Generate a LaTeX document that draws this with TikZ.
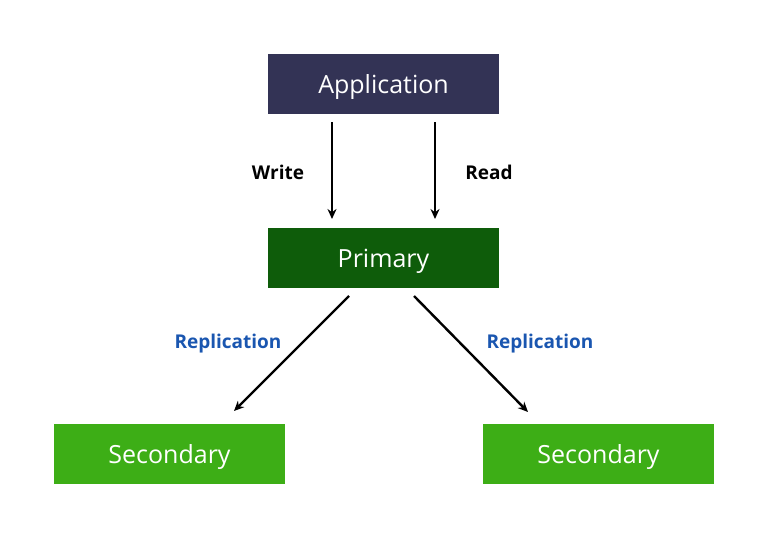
\documentclass[tikz,border=0pt]{standalone}
\usepackage{fontspec}
\setmainfont{Open Sans}
\usetikzlibrary{arrows.meta}
\definecolor{appc}{HTML}{333355}
\definecolor{primc}{HTML}{0E5C0A}
\definecolor{secc}{HTML}{3DAE16}
\definecolor{repc}{HTML}{1A56B0}
\begin{document}
\begin{tikzpicture}[x=1pt,y=-1pt,
  box/.style={minimum width=231pt,minimum height=60pt,inner sep=0pt,text=white,font=\fontsize{25}{28}\selectfont},
  arr/.style={-{Stealth[length=10pt,width=9pt]},line width=2.4pt},
  lbl/.style={font=\bfseries\fontsize{19}{22}\selectfont}]
\useasboundingbox (0,0) rectangle (768,538);
\node[box,fill=appc] (app) at (383.5,84) {};
\node[box,fill=primc] (prim) at (383.5,258) {};
\node[box,fill=secc] (s1) at (169.5,454) {};
\node[box,fill=secc] (s2) at (598.5,454) {};
\node[text=white,font=\fontsize{25}{28}\selectfont] (appt) at (383.5,87) {Application};
\node[text=white,font=\fontsize{25}{28}\selectfont] (primt) at (383.5,261) {Primary};
\node[text=white,font=\fontsize{25}{28}\selectfont] (s1t) at (169.5,457) {Secondary};
\node[text=white,font=\fontsize{25}{28}\selectfont] (s2t) at (598.5,457) {Secondary};
\coordinate (w1) at (332,122); \coordinate (w2) at (332,219);
\coordinate (r1) at (435,122); \coordinate (r2) at (435,219);
\coordinate (l1) at (349,296); \coordinate (l2) at (234,411);
\coordinate (q1) at (414,296); \coordinate (q2) at (528,412);
\draw[arr] (w1) -- (w2);
\draw[arr] (r1) -- (r2);
\draw[arr] (l1) -- (l2);
\draw[arr] (q1) -- (q2);
\node[lbl] (wl) at (278,172) {Write};
\node[lbl] (rl) at (489,172) {Read};
\node[lbl,text=repc] (rp1) at (228,344) {Replication};
\node[lbl,text=repc] (rp2) at (540,344) {Replication};
\end{tikzpicture}
\end{document}
